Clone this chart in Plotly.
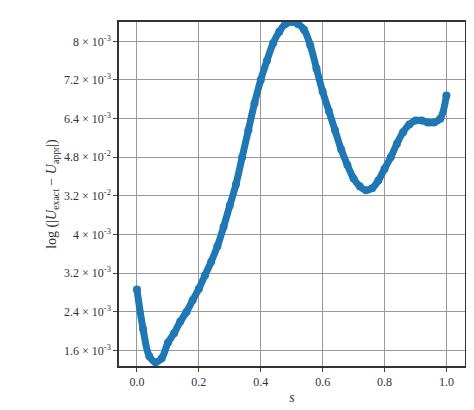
import plotly.graph_objects as go

s = [round(i*0.02, 2) for i in range(51)]
err_idx = [1.58,0.55,-0.15,-0.3,-0.2,0.2,0.45,0.75,1.0,1.3,1.6,1.95,2.3,2.7,3.2,3.75,4.3,5.0,5.7,6.4,
           7.0,7.5,7.95,8.25,8.45,8.5,8.45,8.3,7.9,7.3,6.7,6.2,5.7,5.2,4.8,4.45,4.25,4.15,4.2,4.4,
           4.7,5.0,5.35,5.65,5.85,5.95,5.95,5.9,5.9,6.0,6.6]
ytick_labels = ["1.6 × 10<sup>-3</sup>","2.4 × 10<sup>-3</sup>","3.2 × 10<sup>-3</sup>","4 × 10<sup>-3</sup>",
                "3.2 × 10<sup>-2</sup>","4.8 × 10<sup>-2</sup>","6.4 × 10<sup>-3</sup>","7.2 × 10<sup>-3</sup>",
                "8 × 10<sup>-3</sup>"]
xticks = [0.0,0.2,0.4,0.6,0.8,1.0]

fig = go.Figure(go.Scatter(x=s, y=err_idx, mode="lines+markers",
    line=dict(color="#1f77b4", width=7, shape="spline"),
    marker=dict(color="#1f77b4", size=8)))
ax = dict(showline=True, linecolor="#333", linewidth=1.5, mirror=True, ticks="outside",
          ticklen=4, showgrid=True, gridcolor="#999", gridwidth=1, zeroline=False)
fig.update_xaxes(**ax, range=[-0.058,1.06], tickvals=xticks, ticktext=[f"{v:.1f}" for v in xticks],
                 title=dict(text="<i>s</i>", standoff=4))
fig.update_yaxes(**ax, range=[-0.4,8.5], tickvals=list(range(9)), ticktext=ytick_labels,
                 title=dict(text="log (|<i>U</i><sub>exact</sub> − <i>U</i><sub>appr</sub>|)", standoff=4))
fig.update_layout(width=474, height=410, margin=dict(l=111, r=17, t=12, b=52),
                  plot_bgcolor="white", paper_bgcolor="white", showlegend=False,
                  font=dict(family="Liberation Serif", size=12, color="#333"))
fig.write_html("out.html")
